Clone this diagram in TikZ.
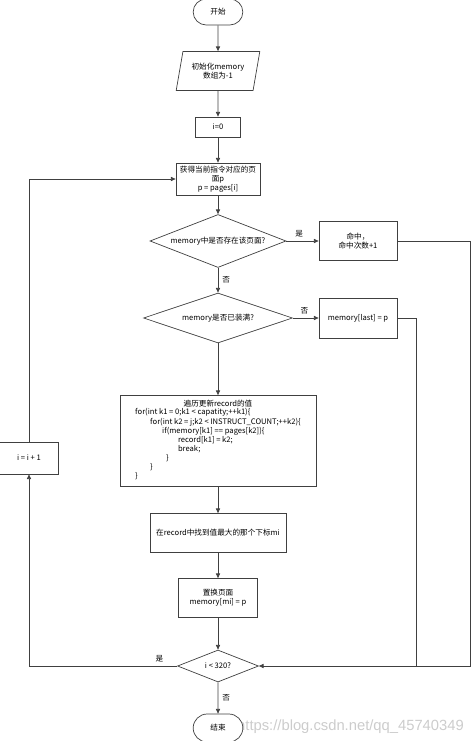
\documentclass[tikz,border=0pt]{standalone}
\usepackage{fontspec}
\setmainfont{Noto Sans CJK SC}
\newfontfamily\markfont{Liberation Sans}
\usepackage{tikz}
\usetikzlibrary{arrows.meta}
\usetikzlibrary{shapes.geometric,shapes.misc}

\begin{document}
\begin{tikzpicture}[x=0.03cm, y=-0.03cm,
        >={Triangle[length=4pt,width=3.5pt]},
        every node/.style={font=\fontsize{6.5}{7.8}\selectfont},
        wire/.style={draw=black!75, line width=0.6pt},
        proc/.style={rectangle, wire, fill=white, align=center, inner sep=1pt},
        decide/.style={diamond, aspect=2.5, wire, fill=white, align=center, inner sep=0pt},
        io/.style={trapezium, trapezium left angle=74, trapezium right angle=106,
                   trapezium stretches=true, wire, fill=white, align=center, inner sep=1pt},
        term/.style={rounded rectangle, wire, fill=white, inner sep=1pt},
    ]
    \useasboundingbox (0,0) rectangle (474,741);

    % main column
    \node[term, minimum width=15.6mm, minimum height=7.8mm] (start) at (218,12) {开始};
    \node[io, minimum width=25.2mm, minimum height=11.7mm] (init) at (218,71) {初始化memory\\数组为-1};
    \node[proc, minimum width=13.5mm, minimum height=6mm] (izero) at (218,127) {i=0};
    \node[proc, minimum width=25.2mm, minimum height=9.6mm] (fetch) at (218,179) {获得当前指令对应的页\\面p\\p = pages[i]};
    \node[decide, minimum width=40.8mm, minimum height=15.9mm] (hitq) at (218,241) {memory中是否存在该页面?};
    \node[proc, minimum width=23.4mm, minimum height=11.7mm] (hit) at (358,241) {命中，\\命中次数+1};
    \node[decide, minimum width=44.7mm, minimum height=15mm] (fullq) at (218,318) {memory是否已装满?};
    \node[proc, minimum width=23.4mm, minimum height=12mm] (last) at (358,318) {memory[last] = p};
    \node[proc, minimum width=58.8mm, minimum height=27.3mm] (upd) at (218,441) {遍历更新record的值\\
        \begin{tabular}{@{}l@{}}
        for(int k1 = 0;k1 < capatity;++k1)\{\\
        \hspace*{12.8pt}for(int k2 = j;k2 < INSTRUCT\_COUNT;++k2)\{\\
        \hspace*{23pt}if(memory[k1] == pages[k2])\{\\
        \hspace*{36.5pt}record[k1] = k2;\\
        \hspace*{36.5pt}break;\\
        \hspace*{26.4pt}\}\\
        \hspace*{12.8pt}\}\\
        \}
        \end{tabular}};
    \node[proc, minimum width=40.8mm, minimum height=11.7mm] (findmax) at (218,533) {在record中找到值最大的那个下标mi};
    \node[proc, minimum width=23.7mm, minimum height=11.7mm] (repl) at (218,598) {置换页面\\memory[mi] = p};
    \node[decide, minimum width=24.3mm, minimum height=9.6mm] (loopq) at (218,666) {i < 320?};
    \node[proc, minimum width=17.7mm, minimum height=9.6mm] (inc) at (29,458) {i = i + 1};

    % watermark
    \node[anchor=west, text=gray!40, inner sep=0pt, font=\markfont\fontsize{12.6}{14}\selectfont] (mark) at (237,727) {https://blog.csdn.net/qq\_45740349};
    \node[term, minimum width=15.6mm, minimum height=8.4mm] (stop) at (218,728) {结束};

    \coordinate (hitr) at (470,241);
    \coordinate (lastr) at (416,318);

    % flow
    \draw[wire,->] (start) -- (init);
    \draw[wire,->] (init) -- (izero);
    \draw[wire,->] (izero) -- (fetch);
    \draw[wire,->] (fetch) -- (hitq);
    \draw[wire,->] (hitq) -- node[above, pos=0.4]{是} (hit);
    \draw[wire,->] (hitq) -- node[right]{否} (fullq);
    \draw[wire,->] (fullq) -- node[above, pos=0.45]{否} (last);
    \draw[wire,->] (fullq) -- (upd);
    \draw[wire,->] (upd) -- (findmax);
    \draw[wire,->] (findmax) -- (repl);
    \draw[wire,->] (repl) -- (loopq);
    \draw[wire,->] (loopq) -- node[right]{否} (stop);
    % back to the test
    \draw[wire,->] (hit.east) -- (hitr) |- (loopq.east);
    \draw[wire] (last.east) -- (lastr) -- (lastr |- loopq.east);
    % loop
    \draw[wire,->] (loopq.west) -| node[above, pos=0.06]{是} (inc.south);
    \draw[wire,->] (inc.north) |- (fetch.west);
\end{tikzpicture}
\end{document}
